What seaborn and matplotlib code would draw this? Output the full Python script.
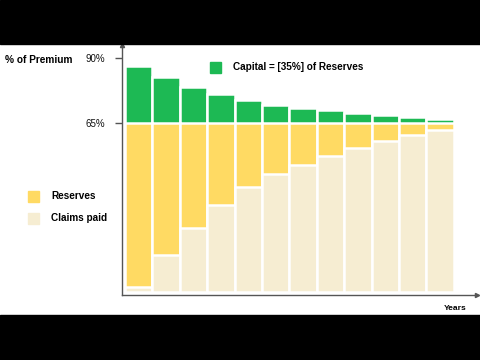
import numpy as np
import pandas as pd
import matplotlib
matplotlib.use("Agg")
import matplotlib.pyplot as plt
from matplotlib.patches import Rectangle
import seaborn as sns

# ==========================================
# Data
# ==========================================

years = [str(i) for i in range(1, 13)]
claims_paid = [1.9, 14.1, 24.7, 33.3, 40.3, 45.4, 48.8, 52.3, 55.4, 58.0, 60.2, 62.3]
reserves = [63.1, 50.9, 40.3, 31.7, 24.7, 19.6, 16.2, 12.7, 9.6, 7.0, 4.8, 2.7]
capital = [21.9, 17.6, 14.0, 11.2, 8.8, 7.0, 5.9, 5.0, 3.8, 3.0, 2.2, 1.5]
ytick_vals = [65, 90]
ytick_labels = ["65%", "90%"]

green = "#1DB954"
yellow = "#FFDA63"
beige = "#F6EDD2"
axis_col = "#555555"

df = pd.DataFrame({"Year": years, "Claims": claims_paid,
                   "Reserves": reserves, "Capital": capital})
df["ReservesTop"] = df["Claims"] + df["Reserves"]
df["CapitalTop"] = df["ReservesTop"] + df["Capital"]

# ==========================================
# Figure
# ==========================================

sns.set_style("white")
plt.rcParams["font.family"] = ["Liberation Sans", "DejaVu Sans"]
plt.rcParams["text.color"] = "black"
plt.rcParams["ytick.labelcolor"] = "#111111"

fig = plt.figure(figsize=(4.8, 3.6), dpi=100)
ax = fig.add_axes([122/480, 65/360, 355/480, 250/360])

# stacked bars drawn back to front
for col, c in [("CapitalTop", green), ("ReservesTop", yellow), ("Claims", beige)]:
    sns.barplot(data=df, x="Year", y=col, color=c, width=1.0,
                edgecolor="white", linewidth=1.8, saturation=1, ax=ax)

ax.set_xlim(-0.61, 12.35)
ax.set_ylim(-1.15, 95)

sns.despine(ax=ax)
for s in ["left", "bottom"]:
    ax.spines[s].set_color(axis_col)
    ax.spines[s].set_linewidth(1.0)

# little arrow heads on the axes
ax.plot([1], [0], marker=">", ms=3, color=axis_col, transform=ax.transAxes, clip_on=False)
ax.plot([0], [1], marker="^", ms=3, color=axis_col, transform=ax.transAxes, clip_on=False)

ax.set_xticks([])
ax.set_yticks(ytick_vals)
ax.set_yticklabels(ytick_labels, fontsize=7)
ax.tick_params(axis="y", length=5, width=1, color=axis_col, pad=7, left=True)
ax.set_xlabel("")
ax.set_ylabel("")

# titles / labels
fig.text(5/480, 1 - 60/360, "% of Premium", fontsize=7.3, fontweight="bold", va="center")
fig.text(1 - 13/480, 1 - 308/360, "Years", fontsize=6, fontweight="bold", ha="right", va="center")

# legend entries
legend_items = [
    (210, 67, green, "Capital = [35%] of Reserves"),
    (28, 196, yellow, "Reserves"),
    (28, 218, beige, "Claims paid"),
]
for lx, ly, c, txt in legend_items:
    fig.patches.append(Rectangle((lx/480, 1 - (ly + 5.5)/360), 11/480, 11/360,
                                 transform=fig.transFigure, color=c, zorder=3))
    fig.text((lx + 23)/480, 1 - ly/360, txt, fontsize=7.2, fontweight="bold", va="center")

# letterbox bands
fig.patches.append(Rectangle((0, 1 - 44/360), 1, 44/360, transform=fig.transFigure,
                             color="black", zorder=5))
fig.patches.append(Rectangle((0, 0), 1, 45/360, transform=fig.transFigure,
                             color="black", zorder=5))

fig.savefig("out.png", dpi=100)
